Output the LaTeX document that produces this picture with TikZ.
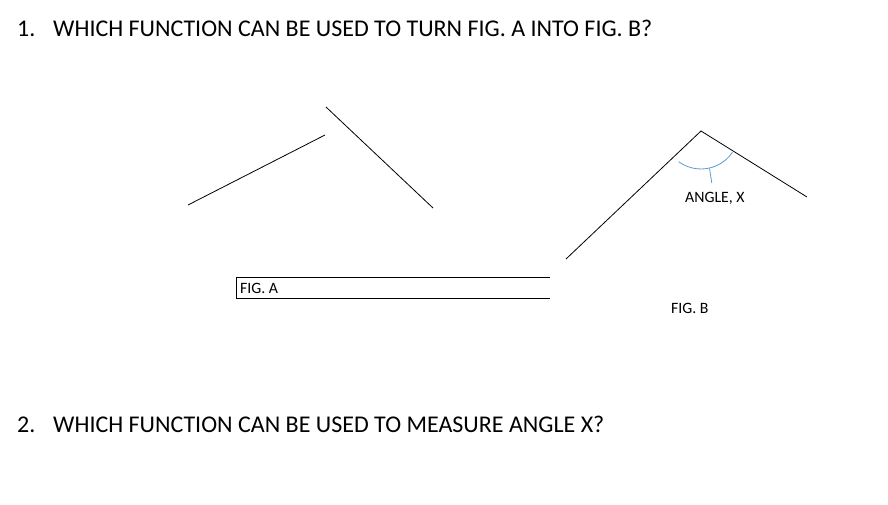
\documentclass[tikz,border=0pt]{standalone}
\usepackage{fontspec}
\setmainfont{Carlito}
\definecolor{anglblue}{RGB}{91,155,213}
\begin{document}
\begin{tikzpicture}[x=1pt,y=-1pt,
  seg/.style={draw=black,line width=0.8pt},
  qtext/.style={anchor=base west,inner sep=0pt,font=\fontsize{24}{28}\selectfont},
  lbl/.style={anchor=base west,inner sep=0pt,font=\fontsize{15.8}{19}\selectfont}]
\useasboundingbox[fill=white] (0,0) rectangle (888,505);
% questions
\node[qtext] (n1) at (17,37) {1.};
\node[qtext] (q1) at (53,37) {WHICH FUNCTION CAN BE USED TO TURN FIG. A INTO FIG. B?};
\node[qtext] (n2) at (17,432) {2.};
\node[qtext] (q2) at (53,432) {WHICH FUNCTION CAN BE USED TO MEASURE ANGLE X?};
% Fig A
\coordinate (a1) at (188,205);
\coordinate (a2) at (325,135);
\coordinate (a3) at (326,107);
\coordinate (a4) at (433,208);
\draw[seg] (a1) -- (a2);
\draw[seg] (a3) -- (a4);
% Fig A caption box
\coordinate (b1) at (550,277);
\coordinate (b2) at (236,277);
\coordinate (b3) at (236,298);
\coordinate (b4) at (550,298);
\draw[seg] (b1) -- (b2) -- (b3) -- (b4);
\node[lbl] (figa) at (240,293) {FIG. A};
% Fig B
\coordinate (c1) at (566,259);
\coordinate (v) at (701,131);
\coordinate (c3) at (807,197);
\draw[seg] (c1) -- (v) -- (c3);
% angle arc (y axis flipped, so angles mirror)
\draw[anglblue,line width=0.8pt] (v) ++(126:38) arc[start angle=126,end angle=34,radius=38];
\coordinate (t1) at (709.5,168.5);
\coordinate (t2) at (711.8,183);
\draw[anglblue,line width=0.8pt] (t1) -- (t2);
\node[lbl] (angx) at (685,202) {ANGLE, X};
\node[lbl] (figb) at (671,313) {FIG. B};
\end{tikzpicture}
\end{document}
